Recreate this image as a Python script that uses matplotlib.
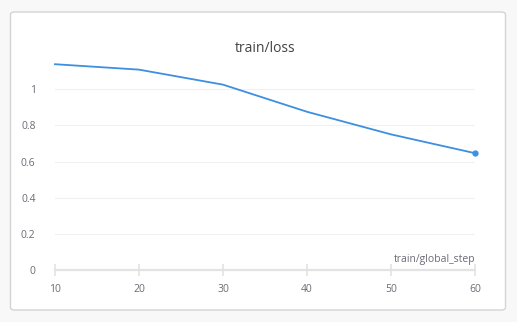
import matplotlib.pyplot as plt
from matplotlib.patches import FancyBboxPatch

# data
steps = [10, 20, 30, 40, 50, 60]
loss = [1.138, 1.108, 1.025, 0.875, 0.750, 0.646]
y_ticks = [0, 0.2, 0.4, 0.6, 0.8, 1]
y_labels = ['0', '0.2', '0.4', '0.6', '0.8', '1']
x_ticks = [10, 20, 30, 40, 50, 60]

text_color = '#6b6b76'
line_color = '#3d8fe0'
plt.rcParams['font.family'] = ['Open Sans', 'DejaVu Sans']

fig = plt.figure(figsize=(5.17, 3.22), dpi=100)
fig.patch.set_facecolor('#f8f8f8')

# white card behind the chart
W, H = 517, 322
card = FancyBboxPatch((10.5 / W, 12 / H), 495 / W, 298 / H,
                      boxstyle='round,pad=0,rounding_size=0.008',
                      transform=fig.transFigure, facecolor='white',
                      edgecolor='#d4d4d4', linewidth=1, zorder=-5)
fig.patches.append(card)

ax = fig.add_axes([55 / W, 52 / H, 420 / W, 217 / H])
ax.set_zorder(2)
ax.set_facecolor('none')
ax.plot(steps, loss, color=line_color, linewidth=1.3, clip_on=False)
ax.plot(steps[-1:], loss[-1:], 'o', color=line_color, markersize=3.5, clip_on=False)

ax.set_xlim(10, 60)
ax.set_ylim(0, 1.2)
ax.set_yticks(y_ticks)
ax.set_yticklabels(y_labels)
ax.set_xticks(x_ticks)

for s in ['top', 'right', 'left']:
    ax.spines[s].set_visible(False)
ax.spines['bottom'].set_color('#e3e3e3')
ax.spines['bottom'].set_linewidth(1.6)

ax.grid(axis='y', color='#f0f0f0', linewidth=0.8)
ax.set_axisbelow(True)
ax.tick_params(axis='y', length=0, pad=14, labelsize=7.5, labelcolor=text_color)
ax.tick_params(axis='x', direction='inout', length=8, width=1.2, color='#e3e3e3',
               pad=6, labelsize=7.5, labelcolor=text_color)

# title placed by hand, it sits a bit lower than set_title allows
ax.text(0.5, 1.023, 'train/loss', ha='center', va='center', fontsize=10,
        color='#444444', transform=ax.transAxes)
ax.text(60, 0.025, 'train/global_step', ha='right', va='bottom',
        fontsize=7.5, color=text_color, transform=ax.transData)

fig.savefig('out.png', dpi=100, facecolor=fig.get_facecolor())
